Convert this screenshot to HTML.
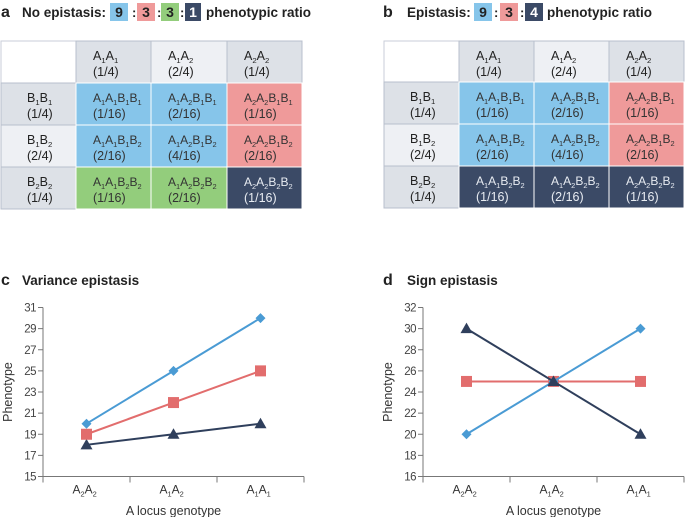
<!DOCTYPE html>
<html><head><meta charset="utf-8">
<style>
html,body{margin:0;padding:0;background:#fff;}
svg{display:block;font-family:"Liberation Sans",sans-serif;}
</style></head>
<body>
<svg id="s" width="685" height="517" viewBox="0 0 685 517">
  <g>
    <text x="1" y="17" font-size="16" font-weight="bold" fill="#222">a</text>
    <text x="22" y="17" font-size="13.5" font-weight="bold" fill="#222">No epistasis:</text>
    <rect x="110" y="3" width="18" height="18" fill="#86c5ea"/><text x="119" y="17" font-size="14" font-weight="bold" text-anchor="middle" fill="#222">9</text>
    <text x="132" y="17" font-size="13" font-weight="bold" fill="#222">:</text>
    <rect x="137" y="3" width="18" height="18" fill="#ef9a9a"/><text x="146" y="17" font-size="14" font-weight="bold" text-anchor="middle" fill="#222">3</text>
    <text x="157" y="17" font-size="13" font-weight="bold" fill="#222">:</text>
    <rect x="161" y="3" width="18" height="18" fill="#93cd7c"/><text x="170" y="17" font-size="14" font-weight="bold" text-anchor="middle" fill="#222">3</text>
    <text x="180" y="17" font-size="13" font-weight="bold" fill="#222">:</text>
    <rect x="185" y="3" width="16" height="18" fill="#3b4a66"/><text x="193" y="17" font-size="14" font-weight="bold" text-anchor="middle" fill="#fff">1</text>
    <text x="206" y="17" font-size="13.5" font-weight="bold" fill="#222">phenotypic ratio</text>
  </g>
  <g>
    <text x="383" y="17" font-size="16" font-weight="bold" fill="#222">b</text>
    <text x="407" y="17" font-size="13.5" font-weight="bold" fill="#222">Epistasis:</text>
    <rect x="474" y="3" width="18" height="18" fill="#86c5ea"/><text x="483" y="17" font-size="14" font-weight="bold" text-anchor="middle" fill="#222">9</text>
    <text x="494" y="17" font-size="13" font-weight="bold" fill="#222">:</text>
    <rect x="500" y="3" width="18" height="18" fill="#ef9a9a"/><text x="509" y="17" font-size="14" font-weight="bold" text-anchor="middle" fill="#222">3</text>
    <text x="520" y="17" font-size="13" font-weight="bold" fill="#222">:</text>
    <rect x="525" y="3" width="18" height="18" fill="#3b4a66"/><text x="534" y="17" font-size="14" font-weight="bold" text-anchor="middle" fill="#fff">4</text>
    <text x="547" y="17" font-size="13.5" font-weight="bold" fill="#222">phenotypic ratio</text>
  </g>
  <g>
    <text x="1" y="285" font-size="16" font-weight="bold" fill="#222">c</text>
    <text x="22" y="285" font-size="13.5" font-weight="bold" fill="#222">Variance epistasis</text>
  </g>
  <g>
    <text x="383" y="285" font-size="16" font-weight="bold" fill="#222">d</text>
    <text x="407" y="285" font-size="13.5" font-weight="bold" fill="#222">Sign epistasis</text>
  </g>
  <g id="tables"></g>
  <g id="charts"></g>
</svg>
<script>
// ---- chart data ----
const categories = ["A2A2","A1A2","A1A1"];
const cTicks = [15,17,19,21,23,25,27,29,31];
const cBlue = [20,25,30];
const cRed = [19,22,25];
const cNavy = [18,19,20];
const dTicks = [16,18,20,22,24,26,28,30,32];
const dBlue = [20,25,30];
const dRed = [25,25,25];
const dNavy = [30,25,20];

const NS="http://www.w3.org/2000/svg";
function mk(tag,attrs,parent){const e=document.createElementNS(NS,tag);for(const k in attrs)e.setAttribute(k,attrs[k]);parent.appendChild(e);return e;}
function geno(parent,x,y,str,size,fill){
  const t=mk('text',{x:x,y:y,'font-size':size,fill:fill},parent);
  for(let i=0;i<str.length;i+=2){
    const a=mk('tspan',{y:y},t);a.textContent=str[i];
    const b=mk('tspan',{y:y+3,'font-size':size*0.62},t);b.textContent=str[i+1];
  }
  return t;
}
const C={B:"#86c5ea",R:"#ef9a9a",G:"#93cd7c",N:"#3b4a66",H:"#dde1e7",L:"#eef0f4",W:"#ffffff"};
const colHead=[["A1A1","(1/4)"],["A1A2","(2/4)"],["A2A2","(1/4)"]];
const rowHead=[["B1B1","(1/4)"],["B1B2","(2/4)"],["B2B2","(1/4)"]];
const fr=[["1/16","2/16","1/16"],["2/16","4/16","2/16"],["1/16","2/16","1/16"]];
function table(name,xs,ys,colors){
  const g=mk('g',{},document.getElementById('tables'));
  
  
  const hc=[C.H,C.L,C.H], rc=[C.H,C.L,C.H];
  mk('rect',{x:xs[0],y:ys[0],width:xs[1]-xs[0],height:ys[1]-ys[0],fill:C.W,stroke:"#c9ced8"},g);
  for(let j=0;j<3;j++){
    const cell=mk('g',{},g);
    
    
    mk('rect',{x:xs[j+1],y:ys[0],width:xs[j+2]-xs[j+1],height:ys[1]-ys[0],fill:hc[j],stroke:"#b8bfcc"},cell);
    geno(cell,xs[j+1]+17,ys[0]+19,colHead[j][0],12.5,"#222");
    const t=mk('text',{x:xs[j+1]+17,y:ys[0]+35,'font-size':12.5,fill:"#222"},cell);t.textContent=colHead[j][1];
  }
  for(let i=0;i<3;i++){
    const cell=mk('g',{},g);
    
    
    mk('rect',{x:xs[0],y:ys[i+1],width:xs[1]-xs[0],height:ys[i+2]-ys[i+1],fill:rc[i],stroke:"#b8bfcc"},cell);
    geno(cell,xs[0]+26,ys[i+1]+19,rowHead[i][0],12.5,"#222");
    const t=mk('text',{x:xs[0]+26,y:ys[i+1]+35,'font-size':12.5,fill:"#222"},cell);t.textContent=rowHead[i][1];
    for(let j=0;j<3;j++){
      const gg=colHead[j][0]+rowHead[i][0];
      const c2=mk('g',{},g);
      
      
      const col=C[colors[i][j]];
      mk('rect',{x:xs[j+1],y:ys[i+1],width:xs[j+2]-xs[j+1],height:ys[i+2]-ys[i+1],fill:col,stroke:"#ffffff",'stroke-width':1},c2);
      const tc=colors[i][j]==="N"?"#e8ecf2":"#333";
      geno(c2,xs[j+1]+17,ys[i+1]+19,gg,12,tc);
      const t=mk('text',{x:xs[j+1]+17,y:ys[i+1]+35,'font-size':12.5,fill:tc},c2);t.textContent="("+fr[i][j]+")";
    }
  }
}
table('punnett-table-no-epistasis',[1,76,151,227,302],[41,83,125,167,209],[["B","B","R"],["B","B","R"],["G","G","N"]]);
table('punnett-table-epistasis',[384,459,534,609,684],[41,82,124,166,208],[["B","B","R"],["B","B","R"],["N","N","N"]]);

function chart(name,ax,ticks,series){
  const g=mk('g',{},document.getElementById('charts'));
  
  
  const yTop=307.5,yBot=476.5,x0=ax,w=261;
  const lo=ticks[0],hi=ticks[ticks.length-1];
  const Y=v=>yBot-(v-lo)/(hi-lo)*(yBot-yTop);
  const X=i=>x0+w/6+i*w/3;
  const axc="#777";
  const ya=mk('g',{},g);
  mk('line',{x1:x0,y1:yTop,x2:x0,y2:yBot,stroke:axc},ya);
  ticks.forEach(v=>{
    mk('line',{x1:x0-5,y1:Y(v),x2:x0,y2:Y(v),stroke:axc},ya);
    const t=mk('text',{x:x0-7,y:Y(v)+4,'font-size':11.5,'text-anchor':'end',fill:"#444",'letter-spacing':'-0.5'},ya);t.textContent=v;
  });
  const yt=mk('text',{x:0,y:0,'font-size':12.5,'text-anchor':'middle',fill:"#333",transform:`translate(${x0-31},${(yTop+yBot)/2}) rotate(-90)`},g);
  yt.textContent="Phenotype";
  const xa=mk('g',{},g);
  mk('line',{x1:x0,y1:yBot,x2:x0+w,y2:yBot,stroke:axc},xa);
  for(let i=0;i<=3;i++)mk('line',{x1:x0+i*w/3,y1:yBot,x2:x0+i*w/3,y2:yBot+6,stroke:axc},xa);
  categories.forEach((c,i)=>{geno(xa,X(i)-14,yBot+17,c,12,"#333");});
  const xt=mk('text',{x:x0+w/2,y:515,'font-size':12.5,'text-anchor':'middle',fill:"#333"},g);
  xt.textContent="A locus genotype";
  series.forEach(s=>{
    const sg=mk('g',{},g);
    
    
    mk('polyline',{points:s.vals.map((v,i)=>X(i)+','+Y(v)).join(' '),fill:'none',stroke:s.color,'stroke-width':2},sg);
    s.vals.forEach((v,i)=>{
      const x=X(i),y=Y(v);let m;
      if(s.mark==='d')m=mk('polygon',{points:`${x},${y-5} ${x+5},${y} ${x},${y+5} ${x-5},${y}`,fill:s.color},sg);
      else if(s.mark==='s')m=mk('rect',{x:x-5.5,y:y-5.5,width:11,height:11,fill:s.color},sg);
      else m=mk('polygon',{points:`${x},${y-6} ${x+6},${y+4.5} ${x-6},${y+4.5}`,fill:s.color},sg);
      
      
    });
  });
}
const BL="#4a9bd4",RD="#e26d6d",NV="#2f3f5c";
chart('variance-epistasis-chart',43,cTicks,[
  {name:'b2b2',vals:cNavy,color:NV,mark:'t'},
  {name:'b1b2',vals:cRed,color:RD,mark:'s'},
  {name:'b1b1',vals:cBlue,color:BL,mark:'d'}]);
chart('sign-epistasis-chart',423,dTicks,[
  {name:'b1b2',vals:dRed,color:RD,mark:'s'},
  {name:'b1b1',vals:dBlue,color:BL,mark:'d'},
  {name:'b2b2',vals:dNavy,color:NV,mark:'t'}]);
</script>
</body></html>
